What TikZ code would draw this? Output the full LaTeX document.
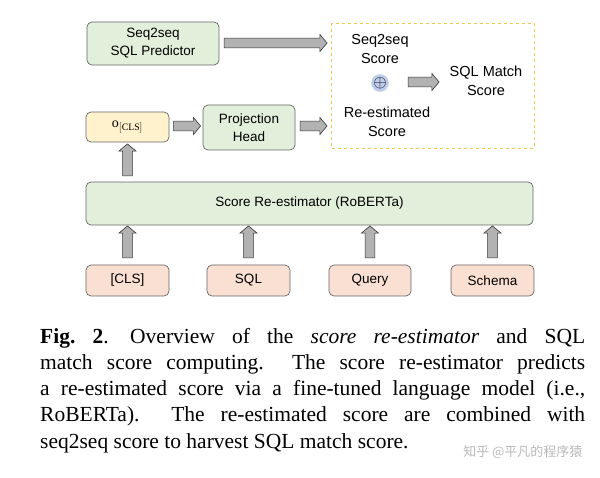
\documentclass[tikz,border=0pt]{standalone}
\usepackage{fontspec}
\setmainfont{Liberation Serif}
\newfontfamily\sansf{Liberation Sans}
\newfontfamily\cjk{Noto Sans CJK SC}
\usetikzlibrary{shapes.arrows,calc}
\begin{document}
\begin{tikzpicture}[x=1pt,y=-1pt,
 box/.style={draw=gray!80!black,rounded corners=5pt,line width=0.7pt,font=\sansf\fontsize{13.5}{18}\selectfont,align=center,inner sep=0pt},
 grn/.style={box,fill={rgb,255:red,226;green,239;blue,218}},
 pch/.style={box,fill={rgb,255:red,250;green,224;blue,210}},
 ylw/.style={box,fill={rgb,255:red,255;green,242;blue,204}},
 fat/.style={single arrow,draw=black!80,fill=gray!60,line width=0.6pt,minimum width=17pt,single arrow head extend=3.5pt,inner xsep=0pt,inner ysep=4.5pt,single arrow tip angle=100},
 txt/.style={font=\sansf\fontsize{14.5}{19}\selectfont,align=center}]
\useasboundingbox (0,0) rectangle (600,478);
\node[grn,minimum width=132pt,minimum height=43pt] (pred) at (153,43.5) {Seq2seq\\SQL Predictor};
\draw[dashed,draw={rgb,255:red,240;green,200;blue,80},line width=0.8pt] (331,23) rectangle (534,148);
\node[ylw,minimum width=83pt,minimum height=30pt] (ocls) at (127.5,127) {\fontsize{14}{14}\selectfont$\mathrm{o}_{[\mathrm{CLS}]}$};
\node[grn,minimum width=92pt,minimum height=45pt] (proj) at (249,127.5) {Projection\\Head};
\node[grn,minimum width=447pt,minimum height=43pt] (rob) at (309.5,203.5) {Score Re-estimator (RoBERTa)};
\node[pch,minimum width=83pt,minimum height=31pt] (cls) at (127.5,280.5) {[CLS]};
\node[pch,minimum width=83pt,minimum height=31pt] (sql) at (248.5,280.5) {SQL};
\node[pch,minimum width=82pt,minimum height=31pt] (qry) at (370,280.5) {Query};
\node[pch,minimum width=83pt,minimum height=31pt] (sch) at (492.5,280.5) {Schema};
\node[txt] (s2s) at (380,49.5) {Seq2seq\\Score};
\node[font=\fontsize{16}{16}\selectfont,circle,fill={rgb,255:red,190;green,205;blue,235},inner sep=0pt] (plus) at (380,83) {$\oplus$};
\node[txt] (match) at (486,81) {SQL Match\\Score};
\node[txt] (rest) at (387,122) {Re-estimated\\Score};
\node[fat,minimum height=103pt] (a1) at (273.5,43) {};
\node[fat,minimum height=27pt] (a2) at (185,126) {};
\node[fat,minimum height=27pt] (a3) at (311.5,126) {};
\node[fat,minimum height=31pt] (a4) at (421.5,82) {};
\foreach \x/\n in {127.5/b1,248.5/b2,370/b3,492.5/b4}
  \node[fat,minimum height=32pt,rotate=90] (\n) at (\x,244) {};
\node[fat,minimum height=32pt,rotate=90] (b5) at (127.5,162) {};
\node[text width=545pt,align=justify,anchor=north west,inner sep=0pt,font=\fontsize{21.5}{26.2}\selectfont] (cap) at (40,328)
{\textbf{Fig.\ 2}.\quad Overview of the \textit{score re-estimator} and SQL\linebreak match score computing.\ \ The score re-estimator predicts\linebreak a re-estimated score via a fine-tuned language model (i.e.,\linebreak RoBERTa).\ \ The re-estimated score are combined with\linebreak seq2seq score to harvest SQL match score.};
\node[font=\cjk\fontsize{13}{13}\selectfont,text=gray!55,anchor=east] (wm) at (586,452) {知乎 @平凡的程序猿};
\end{tikzpicture}
\end{document}
